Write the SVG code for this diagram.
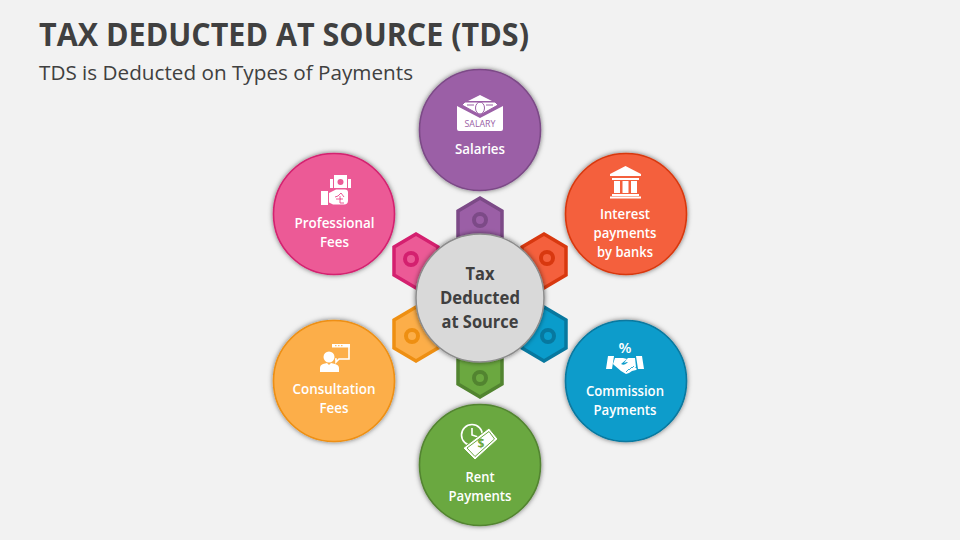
<svg xmlns="http://www.w3.org/2000/svg" width="960" height="540" viewBox="0 0 960 540">
<defs>
<style>
text{font-family:"Open Sans","Noto Sans","Liberation Sans",sans-serif;text-anchor:middle}
.title{font-size:33px;font-weight:700;fill:#404040;text-anchor:start}
.sub{font-size:20.500px;fill:#404040;text-anchor:start}
.lbl{font-size:14.500px;font-weight:600;fill:#fff}
.ctr{font-size:18.500px;font-weight:700;fill:#404040}
.disc{stroke-width:1.600;filter:url(#sh)}
.hex{stroke-width:3.5;stroke-linejoin:miter}
.ring{fill:none;stroke-width:4}
.w{fill:#fff}
.wl{fill:none;stroke:#fff;stroke-width:1.6}
.purple .f{fill:#9B5FA6}.purple .s{stroke:#7C4A87}
.red .f{fill:#F4603D}.red .s{stroke:#D8380F}
.blue .f{fill:#0A9CCB}.blue .s{stroke:#07789F}
.green .f{fill:#6BA840}.green .s{stroke:#528430}
.orange .f{fill:#FCAE49}.orange .s{stroke:#EE8F12}
.pink .f{fill:#EC5A96}.pink .s{stroke:#D4206F}
</style>
<filter id="sh" x="-20%" y="-20%" width="140%" height="140%"><feDropShadow dx="0" dy="0" stdDeviation="2.5" flood-color="#000" flood-opacity=".55"/></filter>
<polygon id="hx" points="0,-27 22,-14 22,14 0,27 -22,14 -22,-14"/>
</defs>
<rect width="960" height="540" fill="#F2F2F2"/>
<text class="title" x="39" y="46" textLength="490" lengthAdjust="spacingAndGlyphs">TAX DEDUCTED AT SOURCE (TDS)</text>
<text class="sub" x="39" y="80" textLength="374" lengthAdjust="spacingAndGlyphs">TDS is Deducted on Types of Payments</text>

<g id="node-salaries" class="purple">
<use href="#hx" class="f s hex" x="480" y="225"/><circle class="s ring" cx="480" cy="220" r="6"/>
<circle class="f s disc" cx="480" cy="130" r="60.5"/>
<path class="w" d="M480 95l12 6h-24zM457 106l23 12 23-12v23q0 2-2 2h-42q-2 0-2-2z"/>
<path d="M465 102h30l3 3-18 10-18-10z" fill="#fff" stroke="#9B5FA6" stroke-width="1"/>
<ellipse cx="480" cy="108" rx="4.500" ry="6" fill="none" stroke="#9B5FA6" stroke-width="1"/>
<path d="M467 105h7M486 105h7" stroke="#9B5FA6" stroke-width="1"/>
<text x="480" y="127" font-size="9" font-weight="500" fill="#9B5FA6" textLength="31" lengthAdjust="spacingAndGlyphs">SALARY</text>
<text class="lbl" x="480" y="154" textLength="50" lengthAdjust="spacingAndGlyphs">Salaries</text>
</g>

<g id="node-interest" class="red">
<use href="#hx" class="f s hex" x="544" y="261"/><circle class="s ring" cx="547" cy="258" r="6"/>
<circle class="f s disc" cx="626" cy="214" r="60.500"/>
<path class="w" d="M625.500 166l15.500 8v2h-31v-2zM612 178h27v2h-27zM614 181h6v12h-6zM622.500 181h6v12h-6zM631 181h6v12h-6zM612 194h27v2h-27zM610 196.500h31v2h-31z"/>
<text class="lbl" x="625" y="218.500" textLength="50" lengthAdjust="spacingAndGlyphs">Interest</text>
<text class="lbl" x="625" y="237.500" textLength="63" lengthAdjust="spacingAndGlyphs">payments</text>
<text class="lbl" x="625" y="256.500" textLength="56" lengthAdjust="spacingAndGlyphs">by banks</text>
</g>

<g id="node-commission" class="blue">
<use href="#hx" class="f s hex" x="544" y="334"/><circle class="s ring" cx="548" cy="336" r="6"/>
<circle class="f s disc" cx="626" cy="381" r="60.500"/>
<text x="625" y="353" font-size="15" font-weight="600" fill="#fff">%</text>
<path class="w" d="M608 356h6l-2 13h-6zM636 356h6l2 13h-6z"/>
<path class="w" d="M615 358h8l4 1-6 5q3 2 6-1l2-1 8 7-1 1-4 1-3 2-3 1-5-3-7-6-1-1z"/>
<path class="w" d="M628 358h7l1 9-2 1-7-6-3 1 3-4z"/>
<path d="M626 372l3-3M629 370l3-3M632 368l2-2" stroke="#0A9CCB" stroke-width=".8" fill="none"/>
<text class="lbl" x="625" y="395.500" textLength="78" lengthAdjust="spacingAndGlyphs">Commission</text>
<text class="lbl" x="625" y="414.500" textLength="63" lengthAdjust="spacingAndGlyphs">Payments</text>
</g>

<g id="node-rent" class="green">
<use href="#hx" class="f s hex" x="480" y="370"/><circle class="s ring" cx="480" cy="378" r="6"/>
<circle class="f s disc" cx="480" cy="465" r="60.500"/>
<circle class="wl" cx="472" cy="435" r="10.500"/>
<path class="wl" d="M472 428v7l6 2"/>
<polygon points="489,428 498,439 475,460 463,448" class="w" stroke="#6BA840" stroke-width="1"/>
<polygon points="489,431.500 494.500,439 475,456.500 467,448" fill="none" stroke="#6BA840" stroke-width="1"/>
<text x="481" y="448" font-size="12" font-weight="700" fill="#6BA840">$</text>
<text class="lbl" x="480" y="481.500" textLength="29" lengthAdjust="spacingAndGlyphs">Rent</text>
<text class="lbl" x="480" y="500.500" textLength="63" lengthAdjust="spacingAndGlyphs">Payments</text>
</g>

<g id="node-consultation" class="orange">
<use href="#hx" class="f s hex" x="416" y="334"/><circle class="s ring" cx="412" cy="336" r="6"/>
<circle class="f s disc" cx="334" cy="381" r="60.500"/>
<circle class="w" cx="329" cy="357" r="5.500"/>
<path class="w" d="M320 372v-4q0-3 3-4l4-1 2 2 2-2 4 1q4 1 4 4v4z"/>
<path class="wl" d="M332 345h17v14h-10l-3 3v-3h-1" stroke-width="1.300"/>
<path class="w" d="M332 344h18v3.500h-18z"/>
<path d="M335 345.700h1.500M338 345.700h1.500M341 345.700h1.500" stroke="#FCAE49" stroke-width="1"/>
<text class="lbl" x="334" y="393.500" textLength="83" lengthAdjust="spacingAndGlyphs">Consultation</text>
<text class="lbl" x="334" y="412.500" textLength="29" lengthAdjust="spacingAndGlyphs">Fees</text>
</g>

<g id="node-professional" class="pink">
<use href="#hx" class="f s hex" x="416" y="261"/><circle class="s ring" cx="411" cy="259" r="6"/>
<circle class="f s disc" cx="334" cy="214" r="60.500"/>
<path class="w" d="M334 175h13v13h-13z"/><circle cx="340.500" cy="182" r="3" fill="#EC5A96"/>
<path class="w" d="M330 179h3v9h-3zM348 179h3v9h-3z"/>
<path class="w" d="M321 191h7v14h-7z"/>
<path class="w" d="M329 193l7-3.500h9q3 0 3 3v8q0 4-4 4h-11l-4-2z"/>
<path d="M335 197l3-1 3-3 3 4M336 199l5 0M340 196v7h4M340 199h3" fill="none" stroke="#EC5A96" stroke-width="1"/>
<text class="lbl" x="334.500" y="227.500" textLength="80" lengthAdjust="spacingAndGlyphs">Professional</text>
<text class="lbl" x="334.500" y="246.500" textLength="29" lengthAdjust="spacingAndGlyphs">Fees</text>
</g>

<g id="node-center">
<circle cx="480" cy="298" r="64" fill="#D9D9D9" stroke="#8C8C8C" stroke-width="1.500" filter="url(#sh)"/>
<text class="ctr" x="480" y="280" textLength="29" lengthAdjust="spacingAndGlyphs">Tax</text>
<text class="ctr" x="480" y="304" textLength="80" lengthAdjust="spacingAndGlyphs">Deducted</text>
<text class="ctr" x="480" y="328" textLength="77" lengthAdjust="spacingAndGlyphs">at Source</text>
</g>
</svg>
